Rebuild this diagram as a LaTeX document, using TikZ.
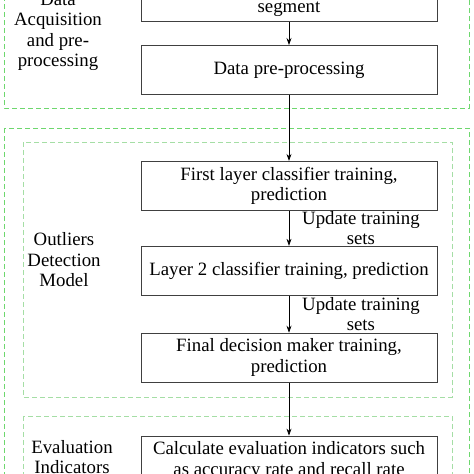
\documentclass[tikz,border=0pt]{standalone}
\usepackage{fontspec}
\setmainfont{Liberation Serif}
\usetikzlibrary{calc,positioning,arrows.meta}
\definecolor{outergreen}{RGB}{110,215,110}
\definecolor{innergreen}{RGB}{165,222,165}

\begin{document}
\begin{tikzpicture}[x=1pt,y=-1pt,font=\fontsize{18.8}{20.5}\selectfont]
	\tikzstyle{stage}=[draw=black!75, line width=0.9pt, align=center, minimum width=296pt, minimum height=49pt, inner sep=2pt]
	\tikzstyle{group}=[text centered, align=center, inner sep=0pt]
	\tikzstyle{update}=[align=center, inner sep=0pt]
	\tikzstyle{flow}=[-{Stealth[length=7pt,width=5pt]}, black, line width=0.7pt]
	\tikzstyle{outer}=[draw=outergreen, line width=0.9pt, dash pattern=on 5pt off 3pt]
	\tikzstyle{inner}=[draw=innergreen, line width=0.9pt, dash pattern=on 5pt off 3pt]

	\useasboundingbox (0,0) rectangle (474,474);

	% dashed frames
	\draw[outer] (4,-20) rectangle (469,108);
	\draw[outer] (4,128) rectangle (469,500);
	\draw[inner] (23,142) rectangle (452,397);
	\draw[inner] (23,416) rectangle (452,500);

	\node (seg) [stage, anchor=south] at (289,22) {\strut\\segment};
	\node (pre) [stage, below=23pt of seg] {Data pre-processing};
	\node (first) [stage, below=66pt of pre] {First layer classifier training,\\prediction};
	\node (second) [stage, below=35pt of first] {Layer 2 classifier training, prediction};
	\node (final) [stage, below=37pt of second] {Final decision maker training,\\prediction};
	\node (eval) [stage, below=53pt of final] {Calculate evaluation indicators such\\as accuracy rate and recall rate};

	\node (acq) [group] at (58,32) {Data\\Acquisition\\and pre-\\processing};
	\node (odm) [group] at (64,260) {Outliers\\Detection\\Model};
	\node (evi) [group] at (72,457) {Evaluation\\Indicators};

	\node (upd1) [update, right=13pt] at ($(first.south)!.5!(second.north)$) {Update training\\sets};
	\node (upd2) [update, right=13pt] at ($(second.south)!.5!(final.north)$) {Update training\\sets};

	\draw[flow] (seg) -- (pre);
	\draw[flow] (pre) -- (first);
	\draw[flow] (first) -- (second);
	\draw[flow] (second) -- (final);
	\draw[flow] (final) -- (eval);

\end{tikzpicture}
\end{document}
